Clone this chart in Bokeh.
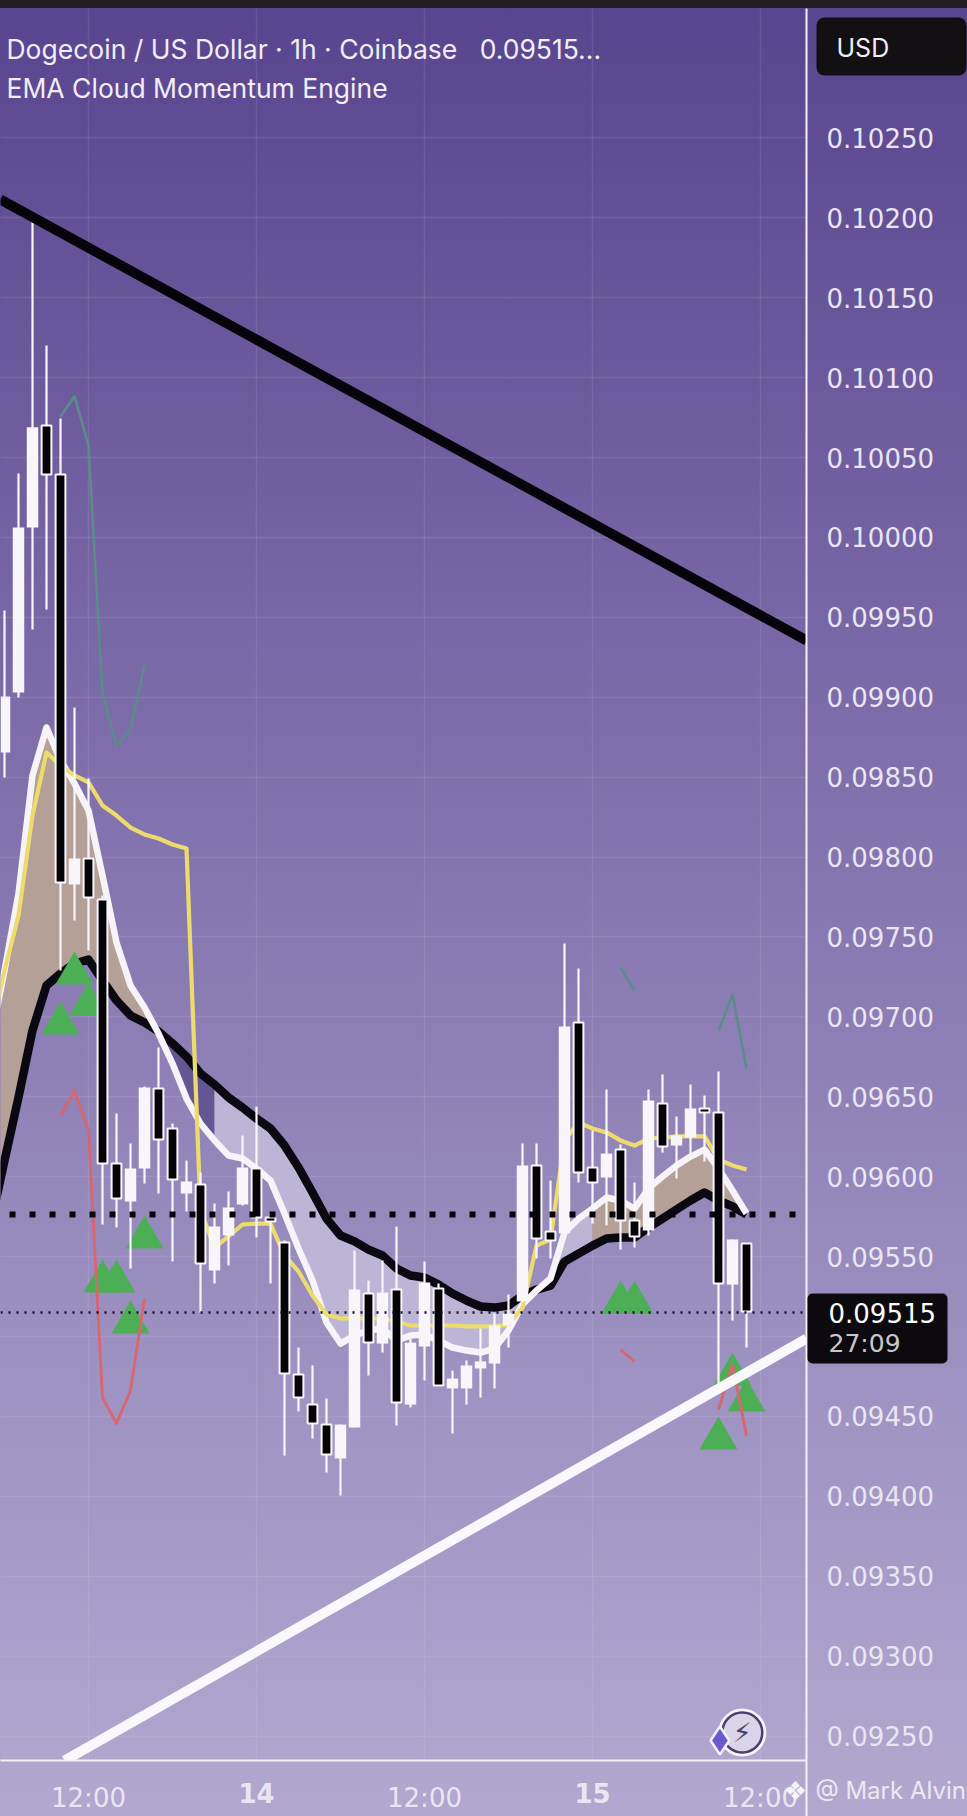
from bokeh.plotting import figure
from bokeh.embed import file_html
from bokeh.resources import INLINE
from bokeh.layouts import column
from bokeh.models import (ColumnDataSource, FixedTicker, NumeralTickFormatter, Label,
                          BoxAnnotation, Range1d, LinearAxis)
from bokeh.core.properties import value

nan = float("nan")

# hours counted from the "14" tick
hours = list(range(-18, 36))

opens = [.098655,.099030,.100063,.100701,.100394,.097829,.097991,.097735,.096083,.095845,.096051,.096552,.096302,.095895,.095951,.095413,.095632,.095826,
         .096051,.095745,.095588,.094762,.094574,.094449,.094237,.094431,.095269,.094956,.095294,.094574,.094937,.095300,.094675,.094675,.094800,.094831,.095069,.095219,
         .096070,.095657,.095645,.096965,.096058,.095995,.096170,.095726,.095663,.096458,.096195,.096245,.096427,.096402,.095325,.095582]
closes = [.099005,.100063,.100689,.100394,.097841,.097991,.097747,.096083,.095864,.096051,.096558,.096233,.095983,.095970,.095457,.095688,.095807,.096058,
          .095745,.095720,.094768,.094618,.094456,.094262,.094449,.095294,.094962,.095275,.094587,.094962,.095338,.094693,.094737,.094819,.094844,.095069,.095144,.096070,
          .095613,.095601,.096940,.096026,.095964,.096145,.095726,.095626,.096477,.096189,.096258,.096427,.096402,.095332,.095607,.095156]
highs = [.099543,.100401,.101996,.101202,.100745,.098936,.098492,.097760,.096396,.096208,.096565,.096809,.096333,.096101,.096026,.095832,.095907,.096258,
         .096439,.095776,.095601,.094931,.094819,.094612,.094449,.095538,.095350,.095476,.095688,.095000,.095469,.095332,.094787,.094850,.095050,.095144,.095263,.096208,
         .096208,.095976,.097459,.097303,.096289,.096546,.096202,.095964,.096546,.096640,.096377,.096577,.096508,.096658,.095607,.095582]
lows = [.098498,.098999,.099424,.099550,.097290,.097603,.097416,.095701,.095682,.095426,.095957,.095895,.095469,.095782,.095150,.095332,.095444,.095820,
        .095620,.095332,.094255,.094531,.094362,.094149,.094005,.094431,.094756,.094900,.094443,.094556,.094725,.094693,.094393,.094574,.094618,.094675,.094931,.095219,
        .095488,.095488,.095645,.095964,.095707,.095695,.095544,.095557,.095632,.096151,.095989,.096139,.096095,.094693,.095100,.094931]

# EMA lines start one hour earlier, off the left edge of the picture
ema_hours = list(range(-19, 36))
ema_white = [.096852,.097290,.097772,.098511,.098811,.098605,.098461,.098292,.097885,.097466,.097197,.097059,.096896,.096708,.096489,.096333,.096227,.096133,.096114,
             .096051,.095976,.095770,.095551,.095350,.095088,.094956,.095006,.095038,.095050,.094975,.095006,.095013,.094975,.094931,.094912,.094900,.094925,.095038,.095200,
             .095288,.095363,.095651,.095738,.095801,.095870,.095851,.095801,.095926,.096001,.096070,.096126,.096170,.096051,.095914,.095770]
ema_black = [.095695,.096101,.096496,.096915,.097197,.097272,.097334,.097359,.097228,.097103,.097009,.096965,.096909,.096834,.096752,.096646,.096577,.096496,.096433,
             .096364,.096302,.096195,.096058,.095901,.095738,.095632,.095595,.095544,.095507,.095426,.095382,.095369,.095325,.095269,.095225,.095188,.095181,.095194,.095257,
             .095294,.095319,.095469,.095519,.095569,.095613,.095620,.095620,.095682,.095738,.095795,.095851,.095901,.095851,.095814,.095763]
ema_yellow = [.096915,.097290,.097635,.098260,.098655,.098573,.098511,.098467,.098323,.098260,.098185,.098142,.098116,.098079,.098054,.095788,.095557,.095626,.095701,
              .095707,.095707,.095507,.095407,.095257,.095138,.095113,.095113,.095113,.095113,.095094,.095069,.095069,.095069,.095069,.095063,.095063,.095063,.095075,.095181,
              .095569,.095607,.096227,.096339,.096302,.096277,.096227,.096195,.096239,.096245,.096252,.096252,.096252,.096108,.096070,.096045]

osc_hours = [-14,-13,-12,-11,-10,-9,-8, nan, 26,27, nan, 33,34,35]
osc_red = [.096383,.096539,.096289,.094618,.094456,.094662,.095238, nan, .094919,.094844, nan, .094543,.094825,.094380]
osc_green = [.100757,.100883,.100576,.099024,.098692,.098799,.099199, nan, .097309,.097165, nan, .096915,.097140,.096677]

signal_hours = [-13,-12,-14,-8,-11,-10,-9,26,27,34,35,33]
signal_prices = [.097272,.097078,.096959,.095620,.095344,.095344,.095088,.095213,.095213,.094762,.094599,.094362]

trend_black_h = [-18.3, 39.3]
trend_black_p = [.102115, .099355]
trend_white_h = [-13.71, 39.29]
trend_white_p = [.092347, .094987]

last_price = 0.09515
level_price = 0.095763
price_ticks = [0.0925 + 0.0005 * i for i in range(21)]
time_ticks = [-12, 0, 12, 24, 36]
time_labels = {-12: "12:00", 0: "", 12: "12:00", 24: "", 36: "12:00"}
day_ticks = {0: "14", 24: "15"}

FONT = "Inter"
AXIS_FONT = "DejaVu Sans"
W = 967
H = 1816

p = figure(width=W, height=H, output_backend="svg", toolbar_location=None,
           x_range=Range1d(-18.286, 39.286), y_range=Range1d(0.092347, 0.103310),
           min_border_left=0, min_border_top=8, min_border_bottom=56, min_border_right=161,
           background_fill_color=None, border_fill_color=None, outline_line_color=None,
           y_axis_location=None, x_axis_location="below", tools="")
p.frame_align = False
p.styles = {"background": "linear-gradient(#221e23 0 8px, transparent 8px), "
                          "linear-gradient(#58458f 8px, #7b6aa8 680px, #9a8ebf 1300px, #b2a8cf 1816px)"}

yaxis = LinearAxis(ticker=FixedTicker(ticks=price_ticks), formatter=NumeralTickFormatter(format="0.00000"),
                   axis_line_color="#f4f2f8", axis_line_width=2, major_tick_line_color=None, minor_tick_line_color=None,
                   major_label_text_color="#e9e6f2", major_label_text_font=AXIS_FONT, major_label_text_font_size="26px",
                   major_label_standoff=14)
p.add_layout(yaxis, "right")

xa = p.xaxis[0]
xa.ticker = FixedTicker(ticks=time_ticks)
xa.major_label_overrides = time_labels
xa.axis_line_color = "#f4f2f8"
xa.axis_line_width = 2
xa.major_tick_line_color = None
xa.minor_tick_line_color = None
xa.major_label_text_color = "#e9e6f2"
xa.major_label_text_font = AXIS_FONT
xa.major_label_text_font_size = "26px"
xa.major_label_standoff = 16

p.xgrid.ticker = FixedTicker(ticks=time_ticks)
p.ygrid.ticker = FixedTicker(ticks=price_ticks)
for g in (p.xgrid, p.ygrid):
    g.grid_line_color = "#ffffff"
    g.grid_line_alpha = 0.09
    g.grid_line_width = 1.5

# clouds between the two EMAs
idx = lambda h: h - ema_hours[0]
clouds = [(-19, -7, "#b5a097"), (-7, -3, "#645693"), (-3, 24, "#bdb5d6"), (24, 35, "#b5a097")]
for a, b, col in clouds:
    i, j = idx(a), idx(b) + 1
    p.varea(x=ema_hours[i:j], y1=ema_white[i:j], y2=ema_black[i:j], fill_color=col)

p.line(ema_hours, ema_black, line_color="#0a0810", line_width=8.5, line_join="round")
p.line(ema_hours, ema_white, line_color="#f6f4f9", line_width=6.5, line_join="round")
p.line(ema_hours, ema_yellow, line_color="#eedb6e", line_width=4.2, line_join="round")

p.scatter(signal_hours, signal_prices, marker="triangle", size=38, fill_color="#4caf55", line_color=None)

# candles
src = ColumnDataSource(dict(h=hours, o=opens, c=closes, hi=highs, lo=lows,
                            top=[max(a, b) for a, b in zip(opens, closes)],
                            bot=[min(a, b) for a, b in zip(opens, closes)]))
up = [i for i in range(len(hours)) if closes[i] >= opens[i]]
dn = [i for i in range(len(hours)) if closes[i] < opens[i]]
p.segment(x0="h", y0="lo", x1="h", y1="hi", source=src, line_color="#f8f6fb", line_width=2.2)
sub = lambda ids: {k: [src.data[k][i] for i in ids] for k in ("h", "top", "bot")}
p.vbar(x="h", top="top", bottom="bot", width=0.82, source=ColumnDataSource(sub(up)), fill_color="#f8f6fb", line_color=None)
p.vbar(x="h", top="top", bottom="bot", width=0.70, source=ColumnDataSource(sub(dn)), fill_color="#050408",
       line_color="#f8f6fb", line_width=2)

p.line(osc_hours, osc_green, line_color="#5d8a8a", line_width=2.6, line_join="round")
p.line(osc_hours, osc_red, line_color="#d9656f", line_width=2.8, line_join="round")

frame_h = [-18.286, 39.286]
p.line(frame_h, [level_price] * 2, line_color="#07050c", line_width=6, line_dash="6 14", line_dash_offset=11)
p.line(frame_h, [last_price] * 2, line_color="#140f24", line_width=2.4, line_dash="2 6")

p.line(trend_black_h, trend_black_p, line_color="#05040a", line_width=10)
p.line(trend_white_h, trend_white_p, line_color="#f9f8fc", line_width=10)

# assistant button
icon_h = [34.7]
icon_p = [.092522]
star_h = [33.1]
star_p = [.092472]
p.scatter(icon_h, icon_p, marker="circle", size=45, fill_color="#d9d4e8", line_color="#f6f4fa", line_width=3)
p.scatter(icon_h, icon_p, marker="circle", size=40, fill_color=None, line_color="#4b3f6e", line_width=2.5)
p.text(icon_h, icon_p, text=["\u26a1"], text_align="center", text_baseline="middle", text_color="#4b3f6e",
       text_font=value("DejaVu Sans"), text_font_size="27px")
p.scatter(star_h, star_p, marker="diamond", size=28, fill_color="#6a5ad0", line_color="#f2eff7", line_width=2.5)

# transparent sheet over the whole page for the texts and boxes that lie outside the plot frame
top = figure(width=W, height=H, output_backend="svg", toolbar_location=None,
             x_range=Range1d(0, W), y_range=Range1d(H, 0), min_border=0,
             background_fill_color=None, border_fill_color=None, outline_line_color=None,
             x_axis_location=None, y_axis_location=None, tools="")
top.frame_align = False
top.grid.visible = False
top.margin = (-H, 0, 0, 0)
top.styles = {"pointer-events": "none"}


def text(x, y, s, size="26px", color="#f1eef7", style="normal", align="left", font=FONT):
    top.add_layout(Label(x=x, y=y, text=s, text_font=font, text_font_size=size, text_color=color,
                         text_font_style=style, text_align=align, text_baseline="middle"))


def box(l, r, t, b, col, rad):
    top.add_layout(BoxAnnotation(left=l, right=r, top=t, bottom=b, fill_color=col, fill_alpha=1,
                                 line_color=None, border_radius=rad))


for h, s in day_ticks.items():
    text(256 + 14 * h, 1792, s, style="bold", align="center", color="#e9e6f2", font=AXIS_FONT)

text(6, 48, "Dogecoin / US Dollar \u00b7 1h \u00b7 Coinbase \u00a0 0.09515...", size="26.5px")
text(6, 87, "EMA Cloud Momentum Engine", size="26.5px")

box(816, 966, 17, 75, "#131014", 8)
text(836, 47, "USD", size="25px")
box(807, 947, 1293, 1363, "#0c0a0e", 5)
text(828, 1312, "0.09515", color="#ffffff", font=AXIS_FONT)
text(828, 1343, "27:09", size="25px", color="#c9c7cc", font=AXIS_FONT)

box(805, 807, 1760, 1816, "#f4f2f8", 0)
text(795, 1790, "\u2756", size="26px", align="center", color="#f6f4fa", font="DejaVu Sans")
text(815, 1790, "@ Mark Alvin", size="24px", color="#ece9f3")

html = file_html(column(p, top), INLINE)
open("out.html", "w").write(html)
